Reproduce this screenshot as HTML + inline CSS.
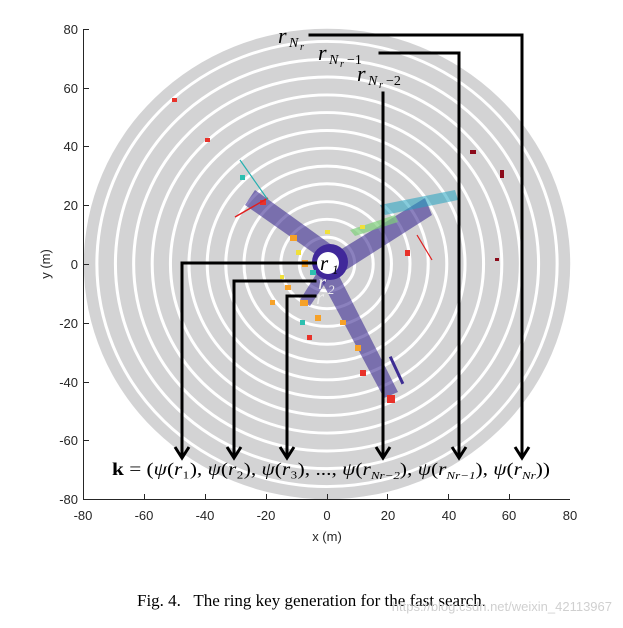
<!DOCTYPE html>
<html><head><meta charset="utf-8"><style>
html,body{margin:0;padding:0;background:#fff;}
svg{display:block;}
</style></head><body>
<svg width="623" height="628" viewBox="0 0 623 628" xmlns="http://www.w3.org/2000/svg">
<rect width="623" height="628" fill="#fff"/>
<g transform="translate(327,264) scale(3.04,2.94)">
  <circle r="80" fill="#d3d3d4"/>
  <g fill="none" stroke="#fff" stroke-width="1.0">
    <circle r="75.7"/><circle r="69.6"/><circle r="63.6"/><circle r="57.5"/><circle r="51.5"/>
    <circle r="45.4"/><circle r="39.4"/><circle r="33.3"/><circle r="27.3"/><circle r="21.2"/>
    <circle r="15.2"/><circle r="9.1"/><circle r="3.1"/>
  </g>
</g>
<g>
  <polygon points="318,256 245,205 255,190 333,246" fill="#3d2d93" opacity="0.6"/>
  <polygon points="340,250 425,198 432,215 346,270" fill="#3d2d93" opacity="0.6"/>
  <polygon points="336,270 398,392 384,398 322,282" fill="#3d2d93" opacity="0.6"/>
  <polygon points="320,268 300,300 310,306 330,276" fill="#3d2d93" opacity="0.6"/>
  <circle cx="330" cy="262" r="18" fill="#40289a"/>
  <polygon points="380,205 455,190 458,200 385,215" fill="#22a3c0" opacity="0.55"/>
  <polygon points="350,230 395,215 398,222 355,236" fill="#7fd07a" opacity="0.7"/>
  <g fill="#f6a128">
    <rect x="290" y="235" width="7" height="6"/><rect x="302" y="260" width="6" height="7"/>
    <rect x="285" y="285" width="6" height="5"/><rect x="300" y="300" width="8" height="6"/>
    <rect x="315" y="315" width="6" height="6"/><rect x="270" y="300" width="5" height="5"/>
    <rect x="340" y="320" width="6" height="5"/><rect x="355" y="345" width="6" height="6"/>
  </g>
  <g fill="#f0e03a">
    <rect x="296" y="250" width="5" height="5"/><rect x="325" y="230" width="5" height="4"/>
    <rect x="360" y="225" width="5" height="4"/><rect x="280" y="275" width="4" height="4"/>
  </g>
  <g fill="#e8322a">
    <rect x="260" y="200" width="6" height="5"/><rect x="205" y="138" width="5" height="4"/>
    <rect x="172" y="98" width="5" height="4"/><rect x="360" y="370" width="6" height="6"/>
    <rect x="387" y="395" width="8" height="8"/><rect x="405" y="250" width="5" height="6"/>
    <rect x="307" y="335" width="5" height="5"/>
  </g>
  <line x1="235" y1="217" x2="268" y2="198" stroke="#e02020" stroke-width="1.5"/>
  <line x1="417" y1="235" x2="432" y2="260" stroke="#e02020" stroke-width="1.2"/>
  <line x1="240" y1="160" x2="268" y2="200" stroke="#25b0b0" stroke-width="1.2"/>
  <g fill="#3d2d93"><rect x="395" y="355" width="3" height="30" transform="rotate(-25 397 370)"/></g>
  <g fill="#8b0a1a"><rect x="500" y="170" width="4" height="8"/><rect x="495" y="258" width="4" height="3"/><rect x="470" y="150" width="6" height="4"/></g>
  <g fill="#2cbfb0"><rect x="240" y="175" width="5" height="5"/><rect x="300" y="320" width="5" height="5"/><rect x="310" y="270" width="6" height="5"/></g>
</g>
<g stroke="#262626" stroke-width="1" fill="none">
  <line x1="83.5" y1="29" x2="83.5" y2="500"/>
  <line x1="83" y1="499.5" x2="570" y2="499.5"/>
</g>
<g stroke="#262626" stroke-width="1">
  <line x1="84" y1="29.5" x2="89" y2="29.5"/><line x1="84" y1="88.5" x2="89" y2="88.5"/>
  <line x1="84" y1="146.5" x2="89" y2="146.5"/><line x1="84" y1="205.5" x2="89" y2="205.5"/>
  <line x1="84" y1="264.5" x2="89" y2="264.5"/><line x1="84" y1="323.5" x2="89" y2="323.5"/>
  <line x1="84" y1="382.5" x2="89" y2="382.5"/><line x1="84" y1="440.5" x2="89" y2="440.5"/>
  <line x1="144.5" y1="494" x2="144.5" y2="499"/><line x1="205.5" y1="494" x2="205.5" y2="499"/>
  <line x1="266.5" y1="494" x2="266.5" y2="499"/><line x1="327.5" y1="494" x2="327.5" y2="499"/>
  <line x1="387.5" y1="494" x2="387.5" y2="499"/><line x1="448.5" y1="494" x2="448.5" y2="499"/>
  <line x1="509.5" y1="494" x2="509.5" y2="499"/>
</g>
<g font-family="Liberation Sans, sans-serif" font-size="13" fill="#262626" text-anchor="end">
  <text x="78" y="34">80</text><text x="78" y="93">60</text><text x="78" y="151">40</text>
  <text x="78" y="210">20</text><text x="78" y="269">0</text><text x="78" y="328">-20</text>
  <text x="78" y="387">-40</text><text x="78" y="445">-60</text><text x="78" y="504">-80</text>
</g>
<g font-family="Liberation Sans, sans-serif" font-size="13" fill="#262626" text-anchor="middle">
  <text x="83" y="520">-80</text><text x="144" y="520">-60</text><text x="205" y="520">-40</text>
  <text x="266" y="520">-20</text><text x="327" y="520">0</text><text x="388" y="520">20</text>
  <text x="449" y="520">40</text><text x="509" y="520">60</text><text x="570" y="520">80</text>
  <text x="327" y="541">x (m)</text>
  <text transform="translate(50,264) rotate(-90)">y (m)</text>
</g>
<g stroke="#000" stroke-width="3" fill="none" stroke-linecap="square">
  <polyline points="310,35 522,35 522,455"/>
  <polyline points="380,53 459,53 459,455"/>
  <polyline points="383,93 383,455"/>
  <polyline points="318,263 182,263 182,455"/>
  <polyline points="315,281 234,281 234,455"/>
  <polyline points="315,296 287,296 287,455"/>
</g>
<g stroke="#000" stroke-width="3" fill="none">
  <polyline points="175,447 182,458 189,447"/><polyline points="227,447 234,458 241,447"/>
  <polyline points="280,447 287,458 294,447"/><polyline points="376,447 383,458 390,447"/>
  <polyline points="452,447 459,458 466,447"/><polyline points="515,447 522,458 529,447"/>
</g>
<circle cx="328" cy="263" r="11" fill="#fff"/>
<g font-family="Liberation Serif, serif" font-style="italic" fill="#000">
  <text x="320" y="270" font-size="21">r</text><text x="332" y="274" font-size="13">1</text>
  <text x="318" y="289" font-size="21" fill="#eee">r</text><text x="328" y="294" font-size="13" fill="#eee">2</text>
  <text x="316" y="304" font-size="21" fill="#eee">r</text>
  <text x="278" y="43" font-size="22">r</text><text x="289" y="47" font-size="14">N</text><text x="300" y="50" font-size="10">r</text>
  <text x="318" y="60" font-size="22">r</text><text x="329" y="64" font-size="14">N</text><text x="340" y="67" font-size="10">r</text><text x="347" y="64" font-size="14" font-style="normal">−1</text>
  <text x="357" y="81" font-size="22">r</text><text x="368" y="85" font-size="14">N</text><text x="379" y="88" font-size="10">r</text><text x="386" y="85" font-size="14" font-style="normal">−2</text>
</g>
<text x="112" y="475" font-family="Liberation Serif, serif" font-size="18" fill="#000" textLength="438" lengthAdjust="spacingAndGlyphs"><tspan font-weight="bold">k</tspan> = (<tspan font-style="italic">ψ</tspan>(<tspan font-style="italic">r</tspan>₁), <tspan font-style="italic">ψ</tspan>(<tspan font-style="italic">r</tspan>₂), <tspan font-style="italic">ψ</tspan>(<tspan font-style="italic">r</tspan>₃), ..., <tspan font-style="italic">ψ</tspan>(<tspan font-style="italic">r</tspan><tspan font-size="11" dy="4" font-style="italic">Nr−2</tspan><tspan dy="-4">), </tspan><tspan font-style="italic">ψ</tspan>(<tspan font-style="italic">r</tspan><tspan font-size="11" dy="4" font-style="italic">Nr−1</tspan><tspan dy="-4">), </tspan><tspan font-style="italic">ψ</tspan>(<tspan font-style="italic">r</tspan><tspan font-size="11" dy="4" font-style="italic">Nr</tspan><tspan dy="-4">))</tspan></text>
<text x="137" y="606" font-family="Liberation Serif, serif" font-size="17" fill="#000" xml:space="preserve">Fig. 4.   The ring key generation for the fast search.</text>
<text x="612" y="611" font-family="Liberation Sans, sans-serif" font-size="13" fill="#d0d0d0" text-anchor="end">https://blog.csdn.net/weixin_42113967</text>
</svg>
</body></html>
